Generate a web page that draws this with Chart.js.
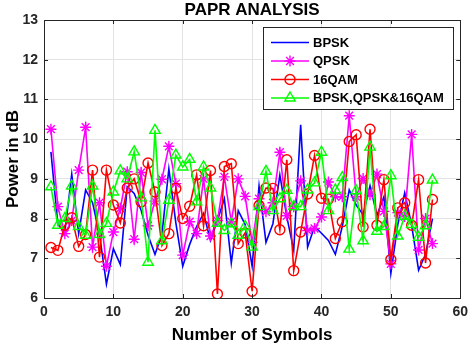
<!DOCTYPE html>
<html>
<head>
<meta charset="utf-8">
<script src="https://cdn.jsdelivr.net/npm/chart.js@4.4.1/dist/chart.umd.min.js"></script>
<style>
  html, body { margin: 0; padding: 0; background: #ffffff; }
  #wrap { width: 474px; height: 349px; position: relative; }
</style>
</head>
<body>
<div id="wrap"><canvas id="papr" width="474" height="349"></canvas></div>
<script>
// Symbol index (x axis)
const symbols = [1,2,3,4,5,6,7,8,9,10,11,12,13,14,15,16,17,18,19,20,21,22,23,24,25,26,27,28,
  29,30,31,32,33,34,35,36,37,38,39,40,41,42,43,44,45,46,47,48,49,50,51,52,53,54,55,56];

// PAPR per symbol, dB
const bpsk = [9.68,7.85,7.65,9.12,7.62,8.72,8.4,7.6,6.35,7.24,6.84,8.8,8.63,8.21,7.58,7.1,7.6,9.25,
  7.9,6.8,7.35,7.8,8.13,7.45,7.95,8.5,6.88,8.2,7.85,6.8,8.82,7.4,7.87,9.1,8.05,7.2,10.36,7.28,
  7.8,7.63,7.45,7.1,7.8,8.72,8.34,8.1,8.83,8.08,8.55,6.62,7.85,8.65,7.83,6.7,7.1,8.0];
const qpsk = [10.25,8.3,7.62,7.95,9.22,10.3,7.28,8.4,6.8,7.66,8.26,9.18,7.48,9.16,7.82,8.44,8.99,9.82,
  8.88,7.08,7.92,7.62,9.0,7.56,7.95,9.05,7.92,9.0,8.56,7.4,8.5,8.17,8.4,9.67,8.07,8.3,8.95,7.7,
  7.75,8.04,8.92,8.55,8.55,10.59,8.55,9.01,8.6,9.12,8.18,6.86,8.15,8.05,10.12,7.21,8.0,7.37];
const qam16 = [7.27,7.2,7.83,8.02,7.3,7.6,9.22,7.03,9.22,8.34,7.89,8.77,9.0,8.42,9.4,8.67,7.32,7.62,
  8.76,8.0,8.31,9.1,7.82,9.21,6.1,9.31,9.38,7.37,7.64,6.17,8.33,8.77,8.76,7.72,9.48,6.69,7.66,8.62,
  9.59,8.51,8.49,7.5,7.92,9.94,10.11,7.79,10.25,7.83,8.98,6.97,8.27,8.4,7.83,8.98,6.88,8.48];
const combined = [8.8,7.83,8.0,8.82,7.8,7.58,8.82,7.6,7.88,8.67,9.2,9.0,9.68,8.52,6.9,10.22,7.44,8.46,
  9.6,9.3,9.49,8.42,9.3,8.77,7.88,7.7,7.87,7.58,7.8,7.28,8.3,9.19,8.2,8.5,8.71,8.3,8.3,8.72,
  8.9,9.67,8.2,8.72,9.03,7.23,8.7,7.44,9.8,7.68,7.8,9.08,7.56,8.06,7.85,7.53,7.82,8.97];

const seriesNames = ['BPSK', 'QPSK', '16QAM', 'BPSK,QPSK&16QAM'];
const xTicks = [0, 10, 20, 30, 40, 50, 60];
const yTicks = [6, 7, 8, 9, 10, 11, 12, 13];

const AXIS_COLOR = '#262626';
const FONT = '"Liberation Sans", Arial, Helvetica, sans-serif';

function toPoints(values) {
  return values.map((v, i) => ({ x: symbols[i], y: v }));
}

function series(label, values, color, pointStyle, radius, order) {
  return {
    label: label,
    data: toPoints(values),
    borderColor: color,
    backgroundColor: 'rgba(0,0,0,0)',
    borderWidth: 1.6,
    pointStyle: pointStyle,
    pointRadius: radius,
    pointBorderColor: color,
    pointBackgroundColor: 'rgba(0,0,0,0)',
    pointBorderWidth: 1.4,
    tension: 0,
    order: order
  };
}

// Axes box, inward ticks, title and legend drawn the way the plot window does it
const frameAndLegend = {
  id: 'frameAndLegend',
  afterDraw(chart) {
    const ctx = chart.ctx;
    const a = chart.chartArea;
    const xs = chart.scales.x, ys = chart.scales.y;
    ctx.save();

    // box
    ctx.strokeStyle = AXIS_COLOR;
    ctx.lineWidth = 1;
    ctx.strokeRect(Math.round(a.left) + 0.5, Math.round(a.top) + 0.5,
      Math.round(a.right - a.left), Math.round(a.bottom - a.top));

    // inward tick marks on all four sides
    const tl = 4;
    ctx.beginPath();
    xTicks.forEach(t => {
      const px = Math.round(xs.getPixelForValue(t)) + 0.5;
      ctx.moveTo(px, a.bottom); ctx.lineTo(px, a.bottom - tl);
      ctx.moveTo(px, a.top); ctx.lineTo(px, a.top + tl);
    });
    yTicks.forEach(t => {
      const py = Math.round(ys.getPixelForValue(t)) + 0.5;
      ctx.moveTo(a.left, py); ctx.lineTo(a.left + tl, py);
      ctx.moveTo(a.right, py); ctx.lineTo(a.right - tl, py);
    });
    ctx.stroke();

    // title
    ctx.fillStyle = '#000000';
    ctx.font = 'bold 17px ' + FONT;
    ctx.textAlign = 'center';
    ctx.textBaseline = 'middle';
    ctx.fillText('PAPR ANALYSIS', (a.left + a.right) / 2, 10);

    // legend box
    const lx = 263, ly = 27.5, lw = 190, lh = 82;
    ctx.fillStyle = '#ffffff';
    ctx.fillRect(lx, ly, lw, lh);
    ctx.strokeStyle = AXIS_COLOR;
    ctx.lineWidth = 1;
    ctx.strokeRect(lx + 0.5, ly, lw, lh);

    const rowY = [42.5, 61, 79.5, 98];
    ctx.font = 'bold 13px ' + FONT;
    ctx.textAlign = 'left';
    ctx.textBaseline = 'middle';
    chart.data.datasets.forEach((ds, i) => {
      const y = rowY[i];
      ctx.strokeStyle = ds.borderColor;
      ctx.lineWidth = 1.5;
      ctx.beginPath();
      ctx.moveTo(271, y);
      ctx.lineTo(309, y);
      ctx.stroke();
      if (ds.pointRadius > 0) {
        ctx.lineWidth = ds.pointBorderWidth;
        ctx.strokeStyle = ds.pointBorderColor;
        ctx.fillStyle = 'rgba(0,0,0,0)';
        Chart.helpers.drawPoint(ctx, {
          pointStyle: ds.pointStyle,
          radius: ds.pointRadius,
          rotation: 0,
          borderWidth: ds.pointBorderWidth
        }, 290, y);
      }
      ctx.fillStyle = '#000000';
      ctx.fillText(seriesNames[i], 313, y + 0.5);
    });

    ctx.restore();
  }
};

new Chart(document.getElementById('papr'), {
  type: 'line',
  data: {
    datasets: [
      series(seriesNames[0], bpsk, '#0000ff', false, 0, 4),
      series(seriesNames[1], qpsk, '#ff00ff', 'star', 5.5, 3),
      series(seriesNames[2], qam16, '#ff0000', 'circle', 5, 2),
      series(seriesNames[3], combined, '#00ff00', 'triangle', 6, 1)
    ]
  },
  options: {
    responsive: false,
    animation: false,
    devicePixelRatio: 1,
    layout: { padding: { top: 20, right: 11, left: 0, bottom: 0 } },
    plugins: {
      legend: { display: false },
      title: { display: false },
      tooltip: { enabled: false }
    },
    scales: {
      x: {
        type: 'linear',
        min: 0,
        max: 60,
        afterBuildTicks(scale) { scale.ticks = xTicks.map(v => ({ value: v })); },
        afterFit(scale) { scale.height = 51; },
        grid: { color: '#e3e3e3', lineWidth: 1, drawTicks: false },
        border: { display: false },
        ticks: {
          color: AXIS_COLOR,
          padding: 6,
          maxRotation: 0,
          font: { family: FONT, size: 14, weight: 'bold' }
        },
        title: {
          display: true,
          text: 'Number of Symbols',
          color: '#000000',
          padding: { top: 0, bottom: 3 },
          font: { family: FONT, size: 17, weight: 'bold' }
        }
      },
      y: {
        type: 'linear',
        min: 6,
        max: 13,
        afterBuildTicks(scale) { scale.ticks = yTicks.map(v => ({ value: v })); },
        afterFit(scale) { scale.width = 44; },
        grid: { color: '#e3e3e3', lineWidth: 1, drawTicks: false },
        border: { display: false },
        ticks: {
          color: AXIS_COLOR,
          padding: 6,
          font: { family: FONT, size: 14, weight: 'bold' }
        },
        title: {
          display: true,
          text: 'Power in dB',
          color: '#000000',
          padding: { top: 3, bottom: 0 },
          font: { family: FONT, size: 17, weight: 'bold' }
        }
      }
    }
  },
  plugins: [frameAndLegend]
});
</script>
</body>
</html>
